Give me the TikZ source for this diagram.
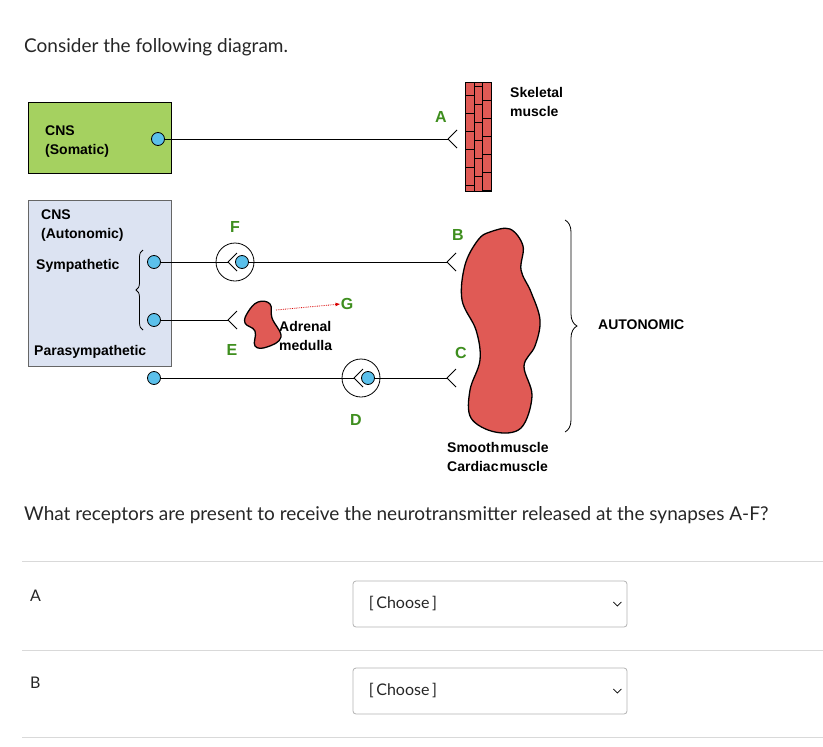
\documentclass[tikz,border=0pt]{standalone}
\usepackage{fontspec}
\setmainfont{Lato}
\newfontfamily\lab{Liberation Sans}
\usetikzlibrary{positioning,decorations.pathreplacing,arrows.meta}
\definecolor{musc}{HTML}{E05A55}
\definecolor{cell}{HTML}{5BC0EB}
\definecolor{somg}{HTML}{A5D160}
\definecolor{autb}{HTML}{DCE3F2}
\definecolor{letg}{HTML}{3E8E1E}
\definecolor{rule}{HTML}{D9D9D9}
\tikzset{
  lbl/.style={font=\lab\bfseries\fontsize{14}{19}\selectfont, anchor=west, align=left, inner sep=0pt},
  let/.style={font=\lab\bfseries\fontsize{16}{19}\selectfont, text=letg, inner sep=0pt},
  soma/.style={circle, draw=black, fill=cell, minimum size=13pt, inner sep=0pt, thick},
  gang/.style={circle, draw=black, minimum size=38pt, inner sep=0pt, thick},
  qtxt/.style={font=\fontsize{19}{22}\selectfont, anchor=west, inner sep=0pt, text=black!85},
  sel/.style={draw=black!30, rounded corners=3pt, minimum width=274pt, minimum height=46pt, line width=0.8pt},
  pics/fork/.style={code={\draw[thick] (0,0) -- (9,-9) (0,0) -- (9,9);}}
}
\begin{document}
\begin{tikzpicture}[x=1pt, y=-1pt]
\useasboundingbox (0,0) rectangle (823,747);
\node[qtxt] at (24,47) {Consider the following diagram.};

%somatic
\draw[fill=somg, thick] (28,102) rectangle (171,173);
\node[lbl] at (45,142) {CNS\\(Somatic)};
\node[soma] (s1) at (158,139) {};
\coordinate (a) at (448,139);
\draw[thick] (s1) -- (a); \pic at (a) {fork};
\node[let] at (441,117) {A};

%skeletal muscle
\draw[fill=musc] (465,82) rectangle (491,191);
\foreach \i in {0,...,5} {
  \draw (465,{95+\i*18}) -- (474,{95+\i*18});
  \draw (474,{86+\i*18}) -- (482,{86+\i*18});
  \draw (482,{100+\i*18}) -- (491,{100+\i*18});
}
\draw (474,82) -- (474,191) (482,82) -- (482,191);
\draw[thick] (465,82) rectangle (491,191);
\node[lbl] at (510,102) {Skeletal\\muscle};

%autonomic
\draw[fill=autb, draw=black!60] (28,200) rectangle (171,366);
\node[lbl] at (41,226) {CNS\\(Autonomic)};
\node[lbl] at (36,266) {Sympathetic};
\node[lbl] at (34,352) {Parasympathetic};
\draw[thick, decorate, decoration={brace, amplitude=7pt}] (143,330) -- (143,250);
\node[soma] (s2) at (154,262) {};
\node[soma] (s3) at (154,320) {};
\node[soma] (s4) at (154,378) {};

%sympathetic
\node[gang] (f) at (235,262) {};
\node[soma] (p1) at (242,262) {};
\coordinate (f0) at (228,262);
\draw[thick] (s2) -- (f0); \pic at (f0) {fork};
\node[let, above=10pt of f] {F};
\coordinate (b) at (447,262);
\draw[thick] (p1) -- (b); \pic at (b) {fork};
\node[let] at (458,235) {B};

%adrenal
\coordinate (e) at (228,320);
\draw[thick] (s3) -- (e); \pic at (e) {fork};
\draw[fill=musc, line width=1.3pt] plot[smooth cycle, tension=0.7] coordinates
 {(248,312) (258,302) (270,304) (272,318) (281,337) (267,347) (255,346) (255,331) (245,323)};
\node[let] at (232,350) {E};
\node[let] (g) at (347,304) {G};
\coordinate (g0) at (276,310);
\draw[densely dotted, red!85!black, thick, -{Latex[length=5pt]}] (g0) -- (g.west);
\node[lbl] at (279,336) {Adrenal\\medulla};

%parasympathetic
\node[gang] (d) at (361,378) {};
\node[soma] (p2) at (368,378) {};
\coordinate (d0) at (354,378);
\draw[thick] (s4) -- (d0); \pic at (d0) {fork};
\node[let] at (356,420) {D};
\coordinate (c) at (447,378);
\draw[thick] (p2) -- (c); \pic at (c) {fork};
\node[let] at (461,353) {C};

%smooth muscle
\draw[fill=musc, line width=1.3pt] plot[smooth cycle, tension=0.6] coordinates
 {(490,232) (510,229) (523,246) (521,270) (531,292) (540,320) (535,346) (524,366) (532,396) (521,428) (495,432) (471,418) (470,390) (480,360) (476,330) (462,300) (465,265) (478,240)};
\draw[thick, decorate, decoration={brace, amplitude=12pt}] (565,220) -- (565,432);
\node[lbl] at (598,325) {AUTONOMIC};
\node[lbl] at (447,457) {Smooth\hspace{1pt}muscle\\Cardiac\hspace{1pt}muscle};

%question
\node[qtxt] at (24,515) {What receptors are present to receive the neurotransmitter released at the synapses A-F?};
\foreach \y in {561,650,737} \draw[rule] (22,\y) -- (823,\y);
\node[qtxt, font=\fontsize{16}{19}\selectfont] at (30,596) {A};
\node[qtxt, font=\fontsize{16}{19}\selectfont] at (30,683) {B};
\foreach \y/\n in {604/q1,691/q2} {
  \node[sel] (\n) at (490,\y) {};
  \node[qtxt, font=\fontsize{16}{19}\selectfont, right=16pt of \n.west] {[\,Choose\,]};
  \draw[thick] ([xshift=-14pt, yshift=2pt]\n.east) -- ++(4,4) -- ++(4,-4);
}
\end{tikzpicture}
\end{document}
